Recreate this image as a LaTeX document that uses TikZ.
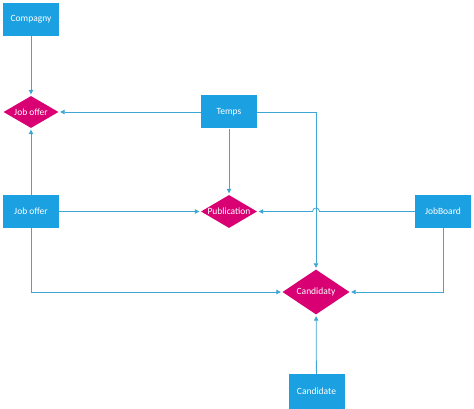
\documentclass[tikz,border=0pt]{standalone}
\usepackage{fontspec}
\setmainfont{Carlito}
\usetikzlibrary{shapes.geometric,arrows.meta}
\definecolor{boxblue}{HTML}{1BA1E2}
\definecolor{decmag}{HTML}{D80073}
\definecolor{linkblue}{HTML}{3EA6D3}
\tikzset{
    entity/.style={fill=boxblue, text=white, minimum width=56pt, minimum height=33pt, inner sep=0pt, font=\fontsize{9.5}{11}\selectfont},
    relation/.style={diamond, fill=decmag, text=white, aspect=1.7, inner sep=0pt, font=\fontsize{9.5}{11}\selectfont},
    link/.style={draw=linkblue, line width=0.8pt, -{Triangle[length=4.5pt,width=4.5pt]}, shorten >=1.5pt}
}
\begin{document}
\begin{tikzpicture}[x=1pt,y=1pt]
    \useasboundingbox (0,0) rectangle (474,409);
    % boxes
    \node[entity] (compagny) at (31,389.5) {Compagny};
    \node[entity] (temps) at (229,297) {Temps};
    \node[entity] (offerbox) at (31,197.5) {Job offer};
    \node[entity] (jobboard) at (443,197.5) {JobBoard};
    \node[entity, minimum height=35pt] (candidate) at (316.5,17.5) {Candidate};
    % diamonds
    \node[relation, minimum width=55pt, minimum height=32pt] (offer) at (31,297) {Job offer};
    \node[relation, minimum width=56pt, minimum height=33pt] (publication) at (229,197.5) {Publication};
    \node[relation, minimum width=67pt, minimum height=45pt] (candidaty) at (316,117) {Candidaty};
    \coordinate (cross) at (candidaty.north |- jobboard.west);
    % links
    \draw[link] (compagny) -- (offer);
    \draw[link] (temps) -- (offer);
    \draw[link] (offerbox) -- (offer);
    \draw[link] (temps) -- (publication);
    \draw[link] (temps.east) -| (candidaty.north);
    \draw[link] (offerbox) -- (publication);
    \draw[link] (jobboard.west) -- ([xshift=3.5pt]cross) arc[start angle=0, end angle=180, radius=3.5pt] -- (publication.east);
    \draw[link] (offerbox.south) |- (candidaty.west);
    \draw[link] (jobboard.south) |- (candidaty.east);
    \draw[link] (candidate) -- (candidaty);
\end{tikzpicture}
\end{document}
